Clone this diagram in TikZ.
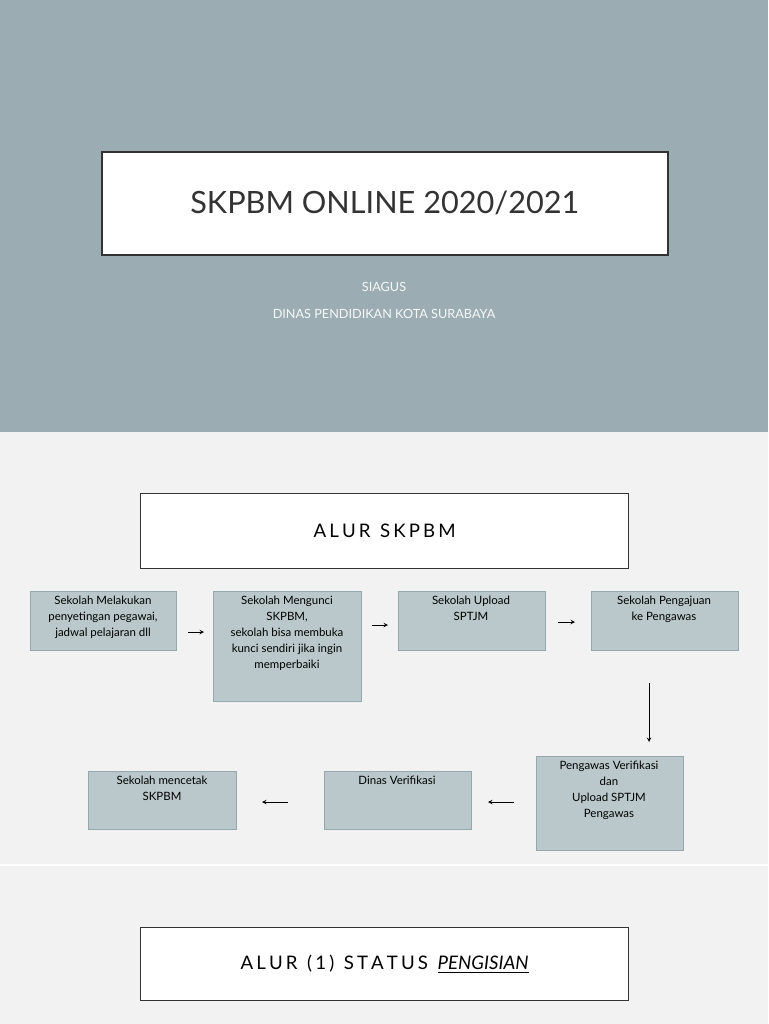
\documentclass[tikz,border=0pt]{standalone}
\usepackage{fontspec}
\setmainfont{Lato}
\definecolor{topbg}{HTML}{9BADB3}
\definecolor{lightbg}{HTML}{F2F2F2}
\definecolor{boxfill}{HTML}{BAC8CC}
\definecolor{boxline}{HTML}{95A8AE}
\definecolor{dark}{HTML}{333333}
\tikzset{
  flowbox/.style={draw=boxline, fill=boxfill, line width=0.6pt, anchor=north west, align=center, inner sep=0pt, font=\fontsize{8.6}{12}\selectfont, text=black},
  boxtext/.style={anchor=north, align=center, font=\fontsize{8.6}{12}\selectfont, inner sep=0pt},
  titlebox/.style={draw=dark, fill=white, line width=1.2pt, anchor=north west, align=center, inner sep=0pt},
  arr/.style={->, >=stealth, line width=0.5pt, black},
}
\begin{document}
\begin{tikzpicture}[x=0.75pt,y=-0.75pt]
\useasboundingbox (0,0) rectangle (768,1024);
\fill[topbg] (0,0) rectangle (768,432);
\fill[lightbg] (0,432) rectangle (768,1024);
\draw[white, line width=1pt] (0,865) -- (768,865);
\node[titlebox, minimum width=566*0.75pt, minimum height=103*0.75pt, font=\fontsize{23}{28}\selectfont, text=dark] (title) at (101,151) {SKPBM ONLINE 2020/2021};
\node[text=white!92!topbg, font=\fontsize{9.5}{12}\selectfont] (sub1) at (384,287) {SIAGUS};
\node[text=white!92!topbg, font=\fontsize{9.5}{12}\selectfont] (sub2) at (384,314) {DINAS PENDIDIKAN KOTA SURABAYA};
\node[titlebox, line width=0.9pt, minimum width=488*0.75pt, minimum height=75*0.75pt, font=\fontsize{14}{16}\selectfont, text=black] (alur) at (140,493) {A\,L\,U\,R\ \ S\,K\,P\,B\,M};
\node[flowbox, minimum width=146*0.75pt, minimum height=59*0.75pt] (a) at (30,591) {};
\node[boxtext] (at) at (103,596) {Sekolah Melakukan\\penyetingan pegawai,\\jadwal pelajaran dll};
\node[flowbox, minimum width=148*0.75pt, minimum height=110*0.75pt] (b) at (213,591) {};
\node[boxtext] (bt) at (287,596) {Sekolah Mengunci\\SKPBM,\\sekolah bisa membuka\\kunci sendiri jika ingin\\memperbaiki};
\node[flowbox, minimum width=147*0.75pt, minimum height=59*0.75pt] (c) at (398,591) {};
\node[boxtext] (ct) at (471,596) {Sekolah Upload\\SPTJM};
\node[flowbox, minimum width=147*0.75pt, minimum height=59*0.75pt] (d) at (591,591) {};
\node[boxtext] (dt) at (664,596) {Sekolah Pengajuan\\ke Pengawas};
\node[flowbox, minimum width=147*0.75pt, minimum height=94*0.75pt] (e) at (536,756) {};
\node[boxtext] (et) at (609,761) {Pengawas Verifikasi\\dan\\Upload SPTJM\\Pengawas};
\node[flowbox, minimum width=147*0.75pt, minimum height=58*0.75pt] (f) at (324,771) {};
\node[boxtext] (ft) at (397,776) {Dinas Verifikasi};
\node[flowbox, minimum width=148*0.75pt, minimum height=58*0.75pt] (g) at (88,771) {};
\node[boxtext] (gt) at (162,776) {Sekolah mencetak\\SKPBM};
\coordinate (a1) at (188,632); \coordinate (a2) at (204,632);
\coordinate (b1) at (372,625); \coordinate (b2) at (388,625);
\coordinate (c1) at (558,622); \coordinate (c2) at (575,622);
\coordinate (d1) at (649,683); \coordinate (d2) at (649,742);
\coordinate (e1) at (514,802); \coordinate (e2) at (488,802);
\coordinate (f1) at (288,802); \coordinate (f2) at (262,802);
\draw[arr] (a1) -- (a2);
\draw[arr] (b1) -- (b2);
\draw[arr] (c1) -- (c2);
\draw[arr] (d1) -- (d2);
\draw[arr] (e1) -- (e2);
\draw[arr] (f1) -- (f2);
\node[titlebox, line width=0.9pt, minimum width=488*0.75pt, minimum height=73*0.75pt, font=\fontsize{14}{16}\selectfont, text=black] (alur2) at (140,927) {A\,L\,U\,R\ \ (\,1\,)\ \ S\,T\,A\,T\,U\,S\ \ \underline{\textit{PENGISIAN}}};
\end{tikzpicture}
\end{document}
